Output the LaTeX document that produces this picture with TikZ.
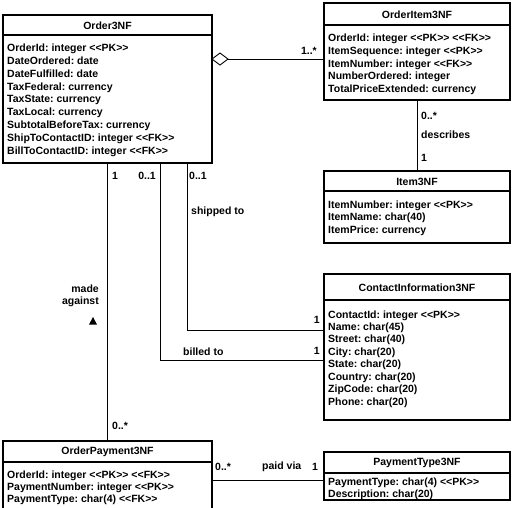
\documentclass[tikz,border=0pt]{standalone}
\usepackage{fontspec}
\newfontfamily\lsb{Liberation Sans}
\usetikzlibrary{calc}
\frenchspacing
\begin{document}
\begin{tikzpicture}[x=1pt,y=-1pt,
  box/.style={draw, line width=1.5pt, rectangle, inner sep=0pt, outer sep=0pt, anchor=north west},
  sepline/.style={line width=1.5pt},
  ttl/.style={font=\lsb\bfseries\frenchspacing\fontsize{10.5}{12}\selectfont, inner sep=0pt},
  attr/.style={font=\lsb\bfseries\frenchspacing\fontsize{10.5}{#1}\selectfont, align=left, inner sep=0pt, anchor=north west},
  attr/.default=12.8,
  lbl/.style={font=\lsb\bfseries\frenchspacing\fontsize{10.5}{12}\selectfont, inner sep=0pt},
  conn/.style={line width=0.9pt}]
\useasboundingbox (0,0) rectangle (520,507);
\clip (0,0) rectangle (520,507);

% Order3NF
\node[box, minimum width=209pt, minimum height=148pt] (order) at (3,15) {};
\draw[sepline] (3,35) -- (212,35);
\node[ttl] (orderT) at (107.5,25.5) {Order3NF};
\node[attr=12.8] (orderA) at (7,43.8) {OrderId: integer <<PK>>\\DateOrdered: date\\DateFulfilled: date\\TaxFederal: currency\\TaxState: currency\\TaxLocal: currency\\SubtotalBeforeTax: currency\\ShipToContactID: integer <<FK>>\\BillToContactID: integer <<FK>>};

% OrderItem3NF
\node[box, minimum width=186pt, minimum height=97pt] (orderitem) at (324,3) {};
\draw[sepline] (324,25) -- (510,25);
\node[ttl] (orderitemT) at (417,14.5) {OrderItem3NF};
\node[attr=12.7] (orderitemA) at (328,33.8) {OrderId: integer <<PK>> <<FK>>\\ItemSequence: integer <<PK>>\\ItemNumber: integer <<FK>>\\NumberOrdered: integer\\TotalPriceExtended: currency};

% Item3NF
\node[box, minimum width=186pt, minimum height=72pt] (item) at (324,171) {};
\draw[sepline] (324,191) -- (510,191);
\node[ttl] (itemT) at (417,181.5) {Item3NF};
\node[attr=12.5] (itemA) at (328,200.3) {ItemNumber: integer <<PK>>\\ItemName: char(40)\\ItemPrice: currency};

% ContactInformation3NF
\node[box, minimum width=186pt, minimum height=146pt] (contact) at (324,274) {};
\draw[sepline] (324,300) -- (510,300);
\node[ttl] (contactT) at (417,287.5) {ContactInformation3NF};
\node[attr=12.43] (contactA) at (328,310.3) {ContactId: integer <<PK>>\\Name: char(45)\\Street: char(40)\\City: char(20)\\State: char(20)\\Country: char(20)\\ZipCode: char(20)\\Phone: char(20)};

% OrderPayment3NF
\node[box, minimum width=209pt, minimum height=80pt] (payment) at (3,441) {};
\draw[sepline] (3,462) -- (212,462);
\node[ttl] (paymentT) at (107.5,451.5) {OrderPayment3NF};
\node[attr=12] (paymentA) at (7,470.3) {OrderId: integer <<PK>> <<FK>>\\PaymentNumber: integer <<PK>>\\PaymentType: char(4) <<FK>>};

% PaymentType3NF
\node[box, minimum width=186pt, minimum height=48pt] (paytype) at (324,452) {};
\draw[sepline] (324,473) -- (510,473);
\node[ttl] (paytypeT) at (417,463) {PaymentType3NF};
\node[attr=12] (paytypeA) at (328,477.3) {PaymentType: char(4) <<PK>>\\Description: char(20)};

% aggregation Order -- OrderItem
\coordinate (aggL) at (212,59);
\coordinate (aggR) at (228,59);
\draw[conn, fill=white] (aggL) -- ++(8,-6) -- (aggR) -- ++(-8,6) -- cycle;
\draw[conn] (aggR) -- (orderitem.west |- aggR);
\node[lbl, anchor=east] (aggM) at (317,51) {1..*};

% OrderItem -- Item
\draw[conn] (orderitem.south) -- (item.north);
\node[lbl, anchor=west] (descM1) at (421,116) {0..*};
\node[lbl, anchor=west] (descL) at (421,135) {describes};
\node[lbl, anchor=west] (descM2) at (421,158) {1};

% Order -- OrderPayment
\draw[conn] (order.south) -- (payment.north);
\node[lbl, anchor=west] (madeM1) at (112,176) {1};
\node[lbl, anchor=west] (madeM2) at (112,426) {0..*};
\node[lbl, anchor=east, align=right] (madeL) at (99,296) {made\\against};
\fill (89,324.5) -- (97,324.5) -- (93,317) -- cycle;

% Order -- Contact (billed to)
\coordinate (billC) at (160,360);
\draw[conn] (order.south -| billC) -- (billC) -- (contact.west |- billC);
\node[lbl, anchor=east] (billM1) at (156,176) {0..1};
\node[lbl, anchor=west] (billL) at (183,352) {billed to};
\node[lbl, anchor=east] (billM2) at (320,351) {1};

% Order -- Contact (shipped to)
\coordinate (shipC) at (187,330);
\draw[conn] (order.south -| shipC) -- (shipC) -- (contact.west |- shipC);
\node[lbl, anchor=west] (shipM1) at (189,176) {0..1};
\node[lbl, anchor=west] (shipL) at (191,212) {shipped to};
\node[lbl, anchor=east] (shipM2) at (320,320) {1};

% OrderPayment -- PaymentType
\coordinate (payC) at (0,480);
\draw[conn] (payment.east |- payC) -- (paytype.west |- payC);
\node[lbl, anchor=west] (payM1) at (215,467) {0..*};
\node[lbl, anchor=west] (payL) at (262,467) {paid via};
\node[lbl, anchor=west] (payM2) at (312,467) {1};
\end{tikzpicture}
\end{document}
